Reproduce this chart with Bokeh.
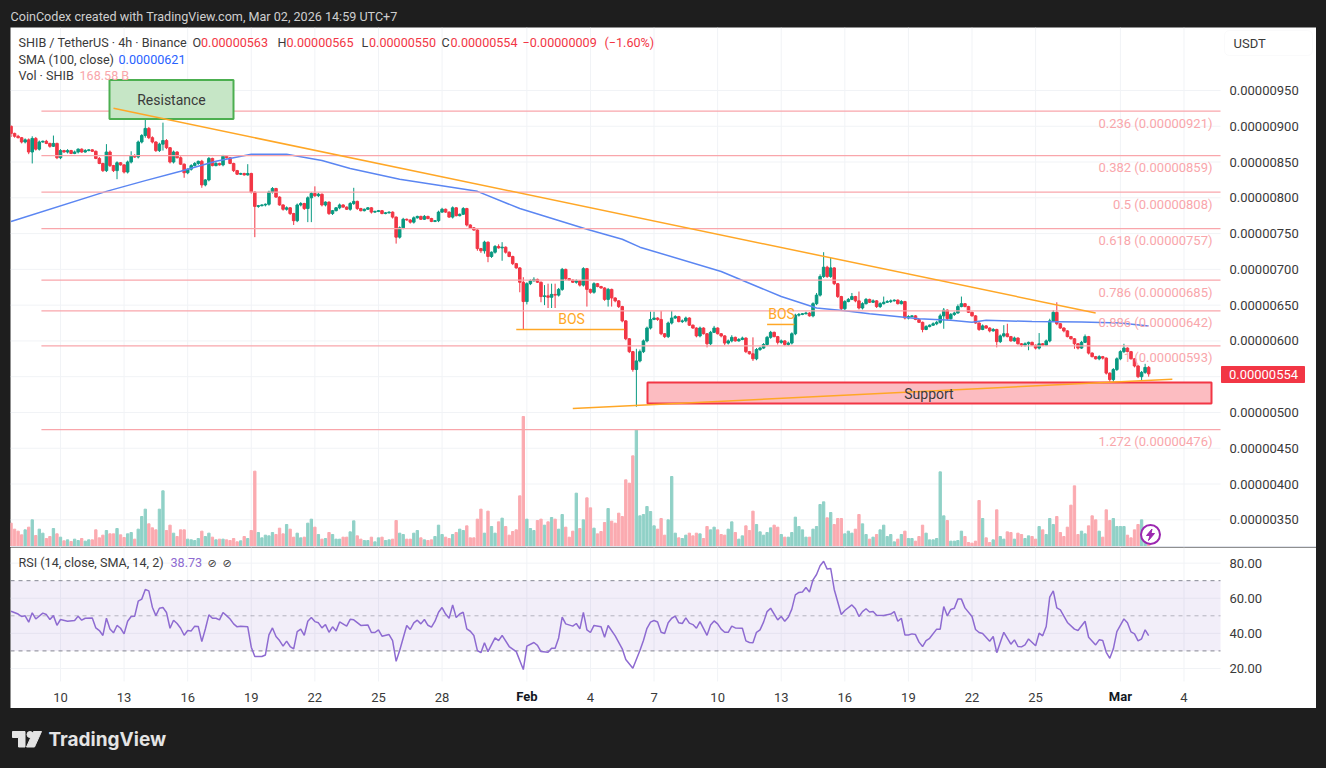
from bokeh.plotting import figure
from bokeh.layouts import column
from bokeh.models import Range1d, FixedTicker, Label, BoxAnnotation, Spacer, LinearAxis
from bokeh.embed import file_html
from bokeh.resources import INLINE

# ---- data (prices in units of 0.00000001) ----
side = ("rrrrgrgrgg" "rrgrgrgrgg" "rggrrrrgrr" "grrggrgggr" "rrggrrgrrr" "ggggrggrgr" "grrrrgrgrr" "gggggrrrgr"
        "rggrggrgrg" "rgggrrggrr" "ggrggrggrr" "ggrrggrgrr" "gggrrgrggr" "rrrrgrggrg" "rrrrrrgggr" "rgrgrggrrr"
        "grgrrgrrrg" "rrrrrrrggg" "gggrrrgggr" "ggrrrgrrgg" "rrrggrggrr" "rgggggrrgr" "ggggggrggg" "grgrrrgggr"
        "rggrgrgggg" "grgrggrrrg" "gggggrgggg" "rrrrrgrrgr" "ggrrgrrggr" "rgrgggrrrr" "rrrggrrrgr" "rrggggrrrr" "ggr")
first_open = 900
close = [
 890,886,884,878,881,864,883,868,878,879, 876,872,876,856,866,864,866,862,864,868,
 864,866,867,865,855,848,838,864,845,838, 849,846,836,850,859,857,878,887,897,884,
 878,866,875,880,870,850,864,856,847,835, 840,845,848,851,818,825,855,845,848,846,
 858,856,848,838,833,834,832,834,808,788, 789,790,791,808,813,801,790,784,786,778,
 768,790,792,785,800,806,803,805,790,794, 778,782,786,790,787,784,792,795,785,782,
 784,786,780,781,782,778,779,780,773,745, 758,770,769,766,772,774,770,774,771,767,
 768,780,784,780,773,786,775,777,785,762, 758,755,729,726,738,718,724,732,730,731,
 724,718,708,702,682,655,680,684,686,682, 662,663,661,665,664,672,700,687,685,682,
 684,678,701,672,668,680,676,674,658,672, 660,656,648,628,603,585,560,572,585,600,
 618,630,632,630,610,606,625,632,634,627, 628,632,622,618,607,618,610,596,612,618,
 610,607,597,600,605,600,602,604,585,582, 575,588,590,595,605,612,606,598,600,595,
 597,610,636,637,638,639,635,652,664,690, 703,690,702,680,662,645,655,658,662,656,
 646,652,658,654,656,648,652,654,655,656, 657,652,655,632,634,635,630,626,616,620,
 622,624,626,635,643,631,637,639,648,652, 648,640,635,625,616,621,618,614,616,599,
 607,610,606,600,604,596,594,596,598,594, 590,596,594,600,628,640,624,618,614,606,
 603,596,590,598,606,583,578,575,578,576, 555,546,560,575,585,590,585,575,565,550,
 556,563,554]
up_wick = [
 1,1,2,1,2,2,3,2,2,1, 2,1,11,1,2,1,2,1,2,1, 1,2,1,1,1,2,1,11,2,1, 2,1,1,2,6,2,2,2,15,2,
 2,1,2,25,2,1,2,1,2,1, 1,2,2,1,2,1,2,1,2,1, 2,1,1,1,1,1,1,13,1,1, 1,1,1,2,2,1,1,1,2,1,
 1,2,2,1,2,2,10,2,1,1, 1,1,1,2,1,1,2,19,1,1, 1,1,1,1,1,1,1,1,1,1, 2,2,1,1,2,1,1,2,1,1,
 1,2,2,1,1,2,1,1,2,1, 1,1,1,1,2,1,1,2,3,7, 1,1,1,1,1,7,2,2,3,1, 1,15,17,15,15,2,2,1,1,1,
 2,1,2,1,1,2,1,1,1,2, 1,1,1,1,1,1,1,17,3,2, 2,11,9,1,12,1,2,10,2,1, 2,2,1,1,1,2,1,1,2,3,
 1,1,1,2,3,1,2,2,1,1, 23,2,2,2,2,2,1,1,2,1, 2,2,2,2,1,2,1,2,3,3, 21,2,14,1,1,1,2,2,5,1,
 13,2,2,1,2,1,2,8,2,2, 1,1,2,1,2,1,1,1,1,2, 1,2,2,3,3,1,2,2,3,10, 1,1,1,1,1,2,1,1,2,1,
 2,12,14,1,2,1,1,2,1,1, 1,15,1,2,3,3,14,1,1,1, 1,1,1,2,3,1,1,1,2,1, 1,1,2,2,2,6,1,1,1,1, 2,5,2]
down_wick = [
 5,2,1,2,2,3,16,2,2,1, 1,2,1,2,2,1,2,1,1,2, 1,1,1,1,1,1,2,2,2,2, 12,1,2,2,2,1,2,2,3,2,
 2,2,2,9,2,2,2,1,1,7, 2,2,1,2,4,2,2,1,1,1, 2,1,1,2,1,1,1,1,2,43, 2,1,2,2,2,1,1,2,2,2,
 6,2,2,2,19,34,2,2,2,2, 2,2,1,2,1,1,2,2,2,1, 1,1,2,1,1,1,1,1,2,9, 2,2,1,2,2,1,1,1,1,1,
 1,2,1,1,1,2,1,1,1,2, 1,1,3,3,4,8,2,2,1,18, 2,1,2,1,14,39,4,2,1,1, 8,12,15,15,18,2,2,2,1,1,
 2,2,2,24,2,2,1,1,2,10, 12,2,2,2,2,2,3,52,2,2, 2,2,1,2,2,2,2,2,1,1, 2,2,1,1,2,2,1,5,2,1,
 1,2,3,2,2,1,1,1,2,1, 3,2,2,1,2,2,1,3,2,2, 2,2,2,2,1,1,1,2,2,2, 2,2,2,2,2,2,2,1,1,2,
 2,2,1,1,1,2,2,1,1,2, 1,1,1,2,2,1,1,1,4,1, 1,1,2,2,18,2,1,2,1,1, 1,1,1,1,2,1,1,2,1,8,
 2,2,1,1,1,1,2,2,9,1, 2,2,1,1,2,1,2,1,2,1, 1,7,2,1,1,2,1,1,2,2, 2,3,3,2,2,2,1,1,2,2, 5,2,4]
# estimated volume; one unit is about 4 B
volume = [
 70,52,46,35,50,58,80,33,52,40, 24,30,54,38,28,17,20,15,22,18, 24,16,20,20,50,26,34,48,38,38,
 54,35,27,38,42,22,52,90,112,68, 56,50,112,167,48,64,40,30,50,50, 22,20,18,24,46,30,40,28,20,22,
 22,20,18,24,14,17,30,24,48,226, 42,26,34,32,42,36,55,38,66,52, 28,40,26,28,70,82,58,36,22,24,
 42,36,22,22,28,28,44,77,32,22, 18,18,28,14,26,28,18,20,22,78, 40,36,22,22,40,48,26,20,18,20,
 30,64,36,28,24,36,42,52,48,62, 26,26,82,112,40,106,60,40,74,85, 60,34,45,50,152,390,82,54,48,78,
 82,64,74,87,82,52,96,58,28,46, 160,54,80,146,116,55,38,45,72,114, 76,70,100,90,200,190,272,350,92,96,
 120,105,62,52,84,34,80,210,40,26, 24,34,40,32,40,38,24,60,50,58, 50,36,34,52,74,42,22,32,62,48,
 106,66,44,34,42,56,64,58,36,28, 28,42,88,60,50,28,28,52,60,126, 134,86,102,66,84,84,38,46,40,52,
 96,68,36,22,28,36,50,64,30,36, 14,22,36,46,24,24,16,30,64,40, 20,20,24,224,92,78,16,16,18,46,
 30,12,10,16,138,84,26,12,20,110, 30,22,44,42,22,40,36,24,32,30, 22,60,50,36,84,66,90,42,30,58,
 124,182,36,46,38,62,92,80,46,28, 110,78,84,60,60,60,34,26,50,66, 80,40,42]
sma_idx = [0,27,38,48,58,68,78,88,96,110,132,144,163,173,178,201,218,228,236,243,257,266,272,276,289,303,314,322]
sma_val = [767,809,824,837,851,861,861,852,841,826,809,785,756,742,731,697,662,646,642,638,631,629,626,629,627,626.5,625,621]
rsi_idx = [0,2,3,4,5,6,7,9,10,11,12,13,14,16,18,19,20,21,23,24,25,26,27,28,29,30,31,32,33,34,35,36,37,38,39,40,41,42,43,44,45,46,47,48,49,50,51,52,53,54,55,56,57,58,59,60,61,62,63,64,65,67,68,69,71,72,73,74,75,76,77,78,79,80,81,82,83,84,85,86,87,88,89,90,91,92,93,95,96,97,99,101,102,103,104,105,107,108,109,110,112,113,114,115,116,117,118,119,120,121,122,123,124,125,126,127,128,129,130,131,132,133,134,135,137,138,139,141,143,145,146,148,149,150,152,153,154,155,156,157,159,160,161,162,163,164,165,167,168,169,171,173,174,176,178,179,180,181,182,183,184,185,186,187,188,189,190,191,192,193,194,195,197,198,199,200,201,202,203,204,205,207,208,209,210,211,212,213,214,215,217,218,219,220,221,222,223,224,225,226,227,228,229,230,231,232,233,235,236,238,239,240,241,242,243,244,245,247,249,250,251,252,253,254,255,256,257,258,259,260,262,263,264,265,266,267,268,269,270,272,273,274,275,277,278,279,281,283,284,285,286,287,288,290,291,292,293,294,295,296,297,299,301,302,304,305,307,308,309,310,311,312,313,315,316,317,318,319,320,321,322]
rsi_val = [52.6,51,49.6,50,46.4,51.7,48.2,51.5,50.7,47.9,50.1,44.6,47.9,46.9,47.3,49.8,47.5,48.6,48.8,43.1,41.6,38.8,48.6,42.5,40.3,44.5,42.9,39.7,46.9,49.6,49.8,58.3,59.5,65,64.2,54.9,50.1,54.3,54.7,51.9,42.9,47.5,45.6,42.9,38.9,41.6,41.4,44.1,43.9,35.3,42.5,50.5,48.6,48.6,47.7,51.9,50.1,48.2,45.4,43.7,44.1,43.7,32.1,26.8,26.8,27.7,39.1,43.1,38.2,35.9,32.7,35.6,32.5,31.2,41,42.4,38.9,46.9,49,46.7,46,43.1,45,40.6,43.7,41.4,46.5,44.1,48,47.7,44.5,44.8,40.5,40.5,42,38.4,39.3,35.9,24.1,30.2,44.5,42.2,46,47.5,45.4,47.9,44.6,43.5,46.9,52,54.7,51,48.6,56.2,49,51,52,42.5,41.2,38.8,30.2,29,34.6,29.6,37.4,35.9,38.8,32.5,29.6,19.4,32.7,34.8,33.2,29.6,29.2,31.5,31.5,37.4,49.2,45.4,44.1,45.6,42.5,51.9,42,40.5,44.5,43.7,37.8,44.5,38.6,31.2,25.1,20.1,30.2,35.9,42.9,46.4,47.3,46.5,40.6,39.9,46,48.6,49.8,46,45.6,48.8,45.8,45,42.9,46.7,38.9,44.8,47.1,45.4,42.4,40.6,40.6,44.1,43.1,42.9,35.7,34.8,34.6,40.6,42,46.4,52.4,54.3,47.7,49.6,46.9,49.2,53.8,61.9,63.3,63.6,66.1,63.5,70.5,73.5,78.5,81.1,76.6,77,65,50.7,53,56.2,54,49.6,52.4,54,52.2,52.4,50.3,50.2,51,52.4,46.9,48.6,39.1,39.1,39.7,39.3,35,32.5,35.9,37.2,42.4,42.4,55.3,50,53.6,54.3,59.5,59.5,54.5,49.6,42.2,40.5,39.9,35.5,38.2,29,40.6,33.8,36.3,32.5,32.3,33.4,36.8,32.9,40.1,38.6,43.9,60.6,64.2,54.5,53.4,46.2,42.4,41.6,46.9,37.8,33.4,36.3,35.9,29.2,25.8,31.2,41,48.2,46,40.8,39.7,35.7,36.9,42,38.73]
price_ticks = [950,900,850,800,750,700,650,600,500,450,400,350]
rsi_ticks = [80,60,40,20]
date_ticks = {14:"10",32:"13",50:"16",68:"19",86:"22",104:"25",122:"28",164:"4",182:"7",200:"10",218:"13",236:"16",254:"19",272:"22",290:"25",332:"4"}
month_ticks = {146:"Feb",314:"Mar"}
fib = [("0.236",921),("0.382",859),("0.5",808),("0.618",757),("0.786",685),("0.886",642),("1",593),("1.272",476)]
res_trend_x, res_trend_y = [29,307], [925,639]
sup_trend_x, sup_trend_y = [159,328.7], [505.6,546.5]
bos1_x, bos1_y = [143,173.6], [616,616]
bos2_x, bos2_y = [214,221.7], [623,623]

# ---- styling ----
DARK="#1e1e1e"; RED="#f23645"; GREEN="#089981"; RED_V="#fbaab0"; GREEN_V="#90d1c7"
PINK="#f9a6ab"; ORANGE="#ffa726"; BLUE="#5b86f2"; PURPLE="#8e6bd1"; GRID="#f1f3f6"; INK="#3a3a3a"
FONT="Roboto"

# the panes fill the white panel; plot area ends at PLOT_R, axis labels sit right of it
FL,FT,FR,FB = 10,27,1316,546
PLOT_R = 1220
X0,X1 = -0.152,14+(FR-60)/3.533
Y_TOP,Y_BOT = 1038.0,312.7
def xd(px): return X0+(px-FL)*(X1-X0)/(FR-FL)
def yd(py): return Y_TOP-(py-FT)*(Y_TOP-Y_BOT)/(FB-FT)
XE = xd(PLOT_R)

def put(fig, fl, fb, x, y, text, color=INK, size=12.6, align="left", style="normal", font=FONT, **kw):
    fig.add_layout(Label(x=x-fl, y=fb-y, x_units="screen", y_units="screen", text=text, text_color=color,
                         text_font_size=f"{size}px", text_align=align, text_baseline="middle",
                         text_font_style=style, text_font=font, **kw))

def base(h, **kw):
    f = figure(width=1306, height=h, output_backend="svg", toolbar_location=None, margin=(0,10,0,10),
               min_border_left=0, min_border_top=0, min_border_bottom=0, min_border_right=0, **kw)
    f.outline_line_color=None
    f.grid.visible=False
    return f

def strip(h, ytop, ybot):
    f = base(h, x_range=Range1d(10,1316), y_range=Range1d(ybot,ytop), x_axis_location=None, y_axis_location=None)
    f.background_fill_color=DARK; f.border_fill_color=DARK
    return f

def clean(a, standoff):
    a.axis_line_color=None; a.major_tick_line_color=None; a.minor_tick_line_color=None
    a.major_tick_out=0; a.major_tick_in=0; a.minor_tick_out=0; a.minor_tick_in=0
    a.major_label_standoff=standoff; a.major_label_text_font=FONT
    a.major_label_text_font_size="13px"; a.major_label_text_color=INK

all_dates = sorted(list(date_ticks)+list(month_ticks))

# ---- header ----
head = strip(27,0,27)
put(head,10,27,10,15.5,"CoinCodex created with TradingView.com, Mar 02, 2026 14:59 UTC+7",color="#cfcfcf")

# ---- price pane ----
p = base(519, x_range=Range1d(X0,X1), y_range=Range1d(Y_BOT,Y_TOP), y_axis_location="right")
p.extra_y_ranges={"vol":Range1d(0,1557)}
p.xaxis.visible=False
ax=p.yaxis[0]
ax.ticker=FixedTicker(ticks=price_ticks)
ax.major_label_overrides={t:f"{t*1e-8:.8f}" for t in price_ticks}
clean(ax,-87)
ax.fixed_location=None

idx=list(range(len(close)))
opens=[first_open]+close[:-1]
tops=[max(o,c) for o,c in zip(opens,close)]
bots=[min(o,c) for o,c in zip(opens,close)]
highs=[t+w for t,w in zip(tops,up_wick)]
lows=[b-w for b,w in zip(bots,down_wick)]
col=[GREEN if s=="g" else RED for s in side]
vcol=[GREEN_V if s=="g" else RED_V for s in side]

# grid
for t in sorted(price_ticks+[550]):
    p.segment(x0=[X0],x1=[XE],y0=[t],y1=[t],color=GRID,line_width=1)
p.segment(x0=all_dates,x1=all_dates,y0=[Y_BOT]*len(all_dates),y1=[Y_TOP]*len(all_dates),color=GRID,line_width=1)

p.vbar(x=idx,top=volume,bottom=0,width=0.66,color=vcol,y_range_name="vol")
p.segment(x0=idx,x1=idx,y0=lows,y1=highs,color=col,line_width=1)
p.vbar(x=idx,top=tops,bottom=bots,width=0.72,color=col)
p.line(sma_idx,sma_val,color=BLUE,line_width=1.5)
for name,lev in fib:
    p.segment(x0=[8.6],x1=[XE],y0=[lev],y1=[lev],color=PINK,line_width=1.2)

# zones
p.quad(left=[xd(109)],right=[xd(233)],top=[yd(79.5)],bottom=[yd(118.5)],fill_color="#c6e6c6",line_color="#4caf50",line_width=2)
p.quad(left=[xd(647)],right=[xd(1211)],top=[yd(382)],bottom=[yd(403)],fill_color="#fcbcc1",line_color=RED,line_width=2)
p.line(res_trend_x,res_trend_y,color=ORANGE,line_width=1.5)
p.line(sup_trend_x,sup_trend_y,color=ORANGE,line_width=1.5)
p.line(bos1_x,bos1_y,color=ORANGE,line_width=1.5)
p.line(bos2_x,bos2_y,color=ORANGE,line_width=1.5)

# lightning badge
p.scatter([xd(1150)],[yd(534)],size=19,fill_color="#ffffff",line_color="#9c27b0",line_width=2)
p.patch([xd(v) for v in (1151.5,1146,1149.5,1148,1154,1150.5)],[yd(v) for v in (528.5,535,535,540,533,533)],color="#9c27b0")

# price tag and USDT button
p.quad(left=[xd(1221)],right=[xd(1304)],top=[yd(366)],bottom=[yd(382)],color=RED)
p.add_layout(BoxAnnotation(left=1224-FL,right=1312-FL,top=FB-30,bottom=FB-55,left_units="screen",right_units="screen",
                           top_units="screen",bottom_units="screen",fill_color="#ffffff",fill_alpha=1,
                           line_color="#eef0f3",line_width=1,border_radius=5))

def main_txt(*a,**k): put(p,FL,FB,*a,**k)
for name,lev in fib:
    main_txt(1212,412-(lev-500)*0.7156+12,f"{name} ({lev*1e-8:.8f})",color=PINK,align="right",size=13)
main_txt(171,99.5,"Resistance",size=14,align="center")
main_txt(928.5,393,"Support",size=14,align="center")
main_txt(571,318,"BOS",color=ORANGE,size=14,align="center")
main_txt(781,313,"BOS",color=ORANGE,size=14,align="center")
# legend
main_txt(18,42,"SHIB / TetherUS · 4h · Binance")
for x,t,c in [(192,"O",INK),(200.5,"0.00000563",RED),(277,"H",INK),(286,"0.00000565",RED),(361,"L",INK),(368.5,"0.00000550",RED),
              (441,"C",INK),(450,"0.00000554",RED),(522,"−0.00000009",RED),(604,"(−1.60%)",RED)]:
    main_txt(x,42,t,color=c)
main_txt(18,58.5,"SMA (100, close)")
main_txt(118,58.5,"0.00000621",color="#2962ff")
main_txt(18,75,"Vol · SHIB")
main_txt(79,75,"168.58 B",color=PINK)
main_txt(1233,43,"USDT",size=13)
main_txt(1263,374,"0.00000554",color="#ffffff",size=13,align="center")

sep = Spacer(width=1306,height=1,margin=(0,10,0,10),styles={"background":"#e0e3eb"})

# ---- RSI pane ----
RB=708
R_TOP,R_BOT=88.9,-2.8
R_PLOT_BOT=12.6
r = base(161, x_range=p.x_range, y_range=Range1d(R_BOT,R_TOP), y_axis_location="right")
ay=r.yaxis[0]
ay.ticker=FixedTicker(ticks=rsi_ticks)
ay.major_label_overrides={t:f"{t:.2f}" for t in rsi_ticks}
clean(ay,-87)
axx=r.xaxis[0]
axx.ticker=FixedTicker(ticks=list(date_ticks))
axx.major_label_overrides=dict(date_ticks)
clean(axx,-16)
axm=LinearAxis(ticker=FixedTicker(ticks=list(month_ticks)),major_label_overrides=dict(month_ticks))
clean(axm,-20)
axm.major_label_text_font_style="bold"
axm.major_label_text_color="#131722"
r.add_layout(axm,"below")

for t in rsi_ticks:
    r.segment(x0=[X0],x1=[XE],y0=[t],y1=[t],color=GRID,line_width=1)
r.segment(x0=all_dates,x1=all_dates,y0=[R_PLOT_BOT]*len(all_dates),y1=[R_TOP]*len(all_dates),color=GRID,line_width=1)
r.quad(left=[X0],right=[XE],bottom=[30],top=[70],fill_color="#7e57c2",fill_alpha=0.1,line_color=None)
for lv,al in [(70,0.9),(50,0.5),(30,0.9)]:
    r.line([X0,XE],[lv,lv],line_color="#787b86",line_dash="4 4",line_alpha=al,line_width=1)
r.line(rsi_idx,rsi_val,color=PURPLE,line_width=1.5)
def rsi_txt(*a,**k): put(r,FL,RB,*a,**k)
rsi_txt(18,562,"RSI (14, close, SMA, 14, 2)")
rsi_txt(170,562,"38.73",color=PURPLE)
rsi_txt(207,562.5,"⊘",size=11,font="DejaVu Sans")
rsi_txt(222,562.5,"⊘",size=11,font="DejaVu Sans")

# ---- footer ----
foot = strip(60,708,768)
WH="#e4e4e4"
foot.patch([12,24.5,24.5,18,18,12],[731,731,746.5,746.5,737,737],color=WH)
foot.scatter([29.5],[734],size=6,color=WH)
foot.patch([33,41,34,26],[731,731,746.5,746.5],color=WH)
put(foot,10,768,48,739,"TradingView",color=WH,size=19,font="Inter",style="bold")

page = column(head,p,sep,r,foot,spacing=0)
html = file_html(page, INLINE, title="SHIB / TetherUS")
html = html.replace("<body>", f'<body style="margin:0;background:{DARK}">')
open("out.html","w").write(html)
